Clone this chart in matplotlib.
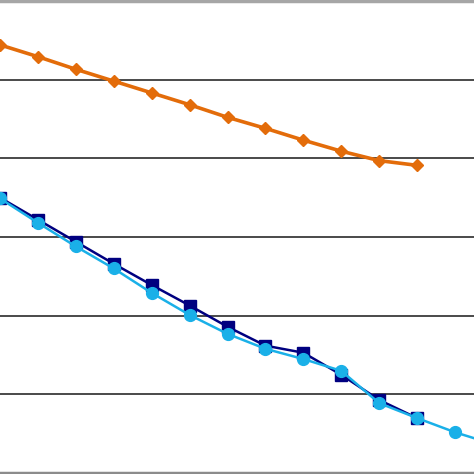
import matplotlib.pyplot as plt
import numpy as np

# values (gridlines every 10 units, 0..60)
orange_x = np.arange(0, 12)
orange_y = [54.4, 52.9, 51.3, 49.8, 48.3, 46.8, 45.2, 43.8, 42.3, 40.9, 39.7, 39.1]

navy_x = np.arange(0, 12)
navy_y = [35.0, 32.2, 29.4, 26.6, 23.9, 21.3, 18.6, 16.2, 15.3, 12.5, 9.3, 7.0]

light_x = np.arange(0, 14)
light_y = [34.9, 31.8, 28.8, 26.0, 22.9, 20.1, 17.7, 15.8, 14.5, 13.0, 8.9, 7.0, 5.2, 3.7]

grid_levels = [10, 20, 30, 40, 50]

fig = plt.figure(figsize=(4.74, 4.74), dpi=100)
ax = fig.add_axes([0, 0, 1, 1])

for g in grid_levels:
    ax.axhline(g, color="#3c3c3c", lw=1.3, zorder=1)
ax.axhline(60, color="#a6a6a6", lw=2.5, zorder=1)
ax.axhline(0, color="#8c8c8c", lw=2.5, zorder=1)

ax.plot(orange_x, orange_y, color="#E36C0A", lw=2.6, marker="D", ms=6.5,
        zorder=3)
ax.plot(navy_x, navy_y, color="#000080", lw=1.8, marker="s", ms=8,
        zorder=3)
ax.plot(light_x, light_y, color="#1AB0E8", lw=1.8, marker="o", ms=8.5,
        zorder=4)

ax.set_xlim(0, 12.5)
ax.set_ylim(-0.1, 60.1)
ax.axis("off")

fig.savefig("out.png", dpi=100)
